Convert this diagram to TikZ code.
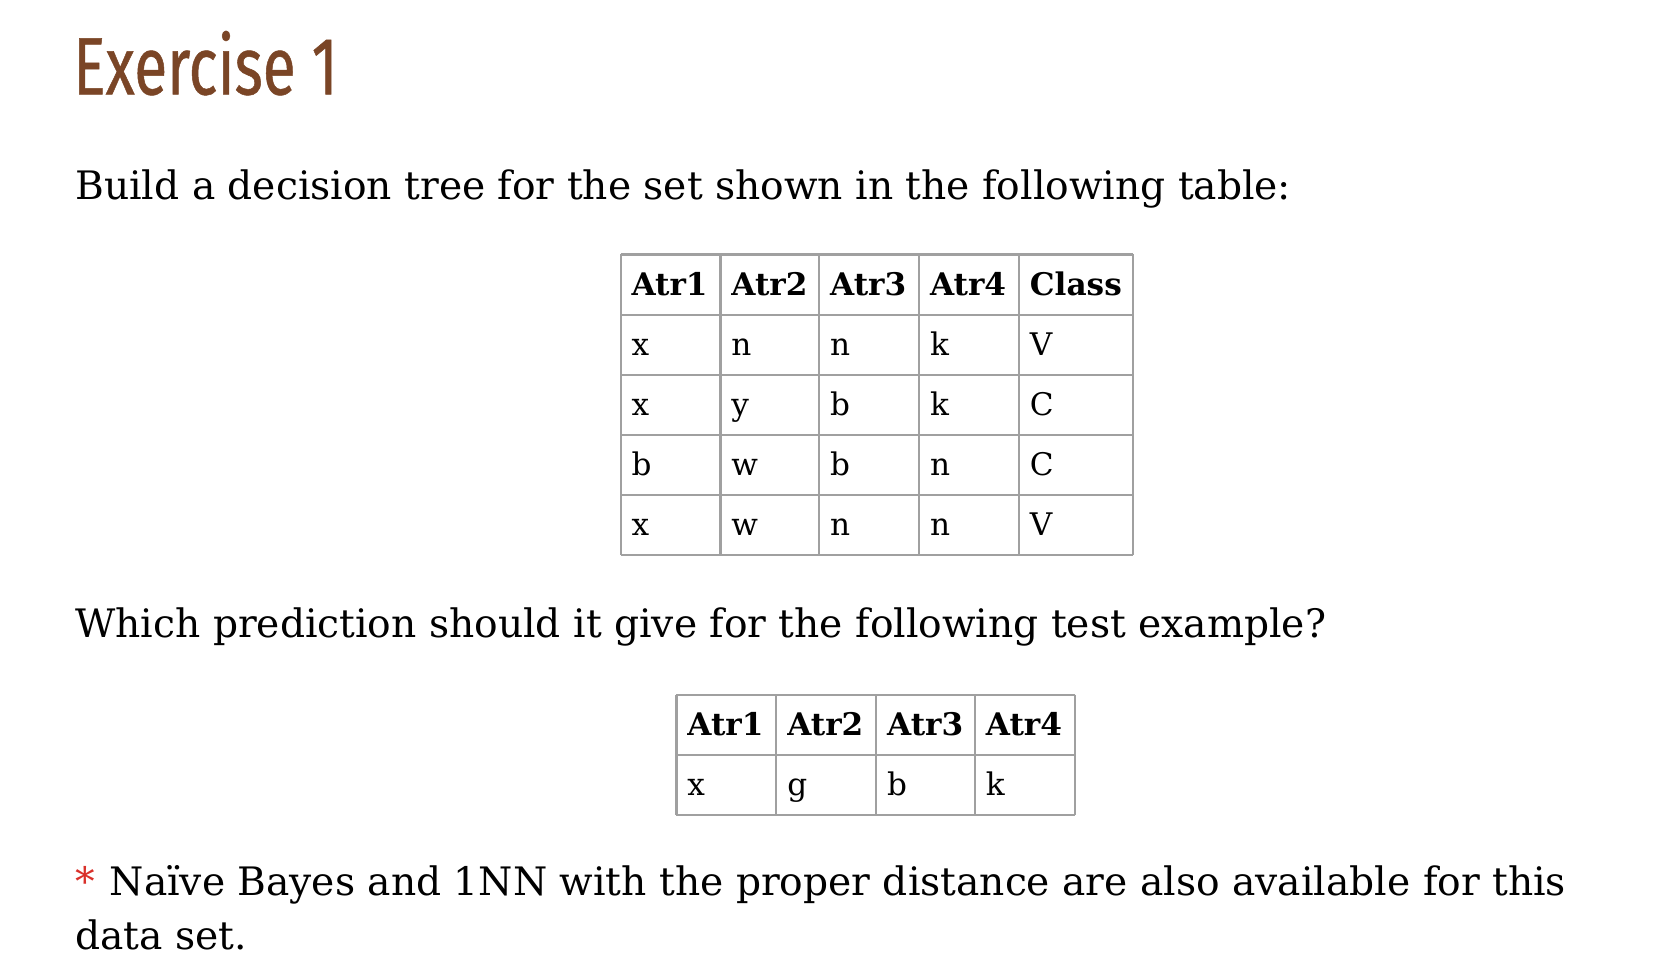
\documentclass[tikz,border=0pt]{standalone}
\usepackage{fontspec}
\setmainfont{DejaVu Serif}
\newfontfamily\titlefont[FakeStretch=0.74,FakeBold=0.6]{Fira Sans}
\definecolor{titlebrown}{HTML}{7A4526}
\definecolor{gridgray}{HTML}{A0A0A0}
\definecolor{astred}{HTML}{D9302A}
\begin{document}
\begin{tikzpicture}[x=1pt,y=-1pt,
  body/.style={anchor=base west,inner sep=0pt,font=\fontsize{36.5}{40}\selectfont},
  cell/.style={anchor=base west,inner sep=0pt,font=\fontsize{29}{34}\selectfont},
  hcell/.style={cell,font=\fontsize{29}{34}\selectfont\bfseries},
  grid/.style={draw=gridgray,line width=2pt}]
\useasboundingbox (0,0) rectangle (1560,906);
\node[anchor=base west,inner sep=0pt,text=titlebrown,font=\fontsize{76}{78}\selectfont\titlefont] (title) at (68,88) {Exercise 1};
\node[body] (l1) at (70,186) {Build a decision tree for the set shown in the following table:};
% table 1
\foreach \x in {578,671,763,856,949,1055} \draw[grid] (\x,237) -- (\x,517);
\foreach \y in {237,293,349,405,461,517} \draw[grid] (578,\y) -- (1055,\y);
\foreach \t [count=\i] in {Atr1,Atr2,Atr3,Atr4,Class}{
  \pgfmathsetmacro\xx{{0,588,681,773,866,959}[\i]}
  \node[hcell] (h\i) at (\xx,275) {\t};}
\foreach \r/\a/\b/\c/\d/\e in {1/x/n/n/k/V,2/x/y/b/k/C,3/b/w/b/n/C,4/x/w/n/n/V}{
  \pgfmathsetmacro\yy{275+56*\r}
  \node[cell] (c\r a) at (588,\yy) {\a};
  \node[cell] (c\r b) at (681,\yy) {\b};
  \node[cell] (c\r c) at (773,\yy) {\c};
  \node[cell] (c\r d) at (866,\yy) {\d};
  \node[cell] (c\r e) at (959,\yy) {\e};}
\node[body] (l2) at (70,594) {Which prediction should it give for the following test example?};
% table 2
\foreach \x in {630,723,816,908,1001} \draw[grid] (\x,647) -- (\x,759);
\foreach \y in {647,703,759} \draw[grid] (630,\y) -- (1001,\y);
\node[hcell] (t1) at (640,685) {Atr1};
\node[hcell] (t2) at (733,685) {Atr2};
\node[hcell] (t3) at (826,685) {Atr3};
\node[hcell] (t4) at (918,685) {Atr4};
\node[cell] (u1) at (640,741) {x};
\node[cell] (u2) at (733,741) {g};
\node[cell] (u3) at (826,741) {b};
\node[cell] (u4) at (918,741) {k};
\node[body,text=astred] (ast) at (70,834) {*};
\node[body] (l3) at (102,834) {Naïve Bayes and 1NN with the proper distance are also available for this};
\node[body] (l4) at (70,884) {data set.};
\end{tikzpicture}
\end{document}
